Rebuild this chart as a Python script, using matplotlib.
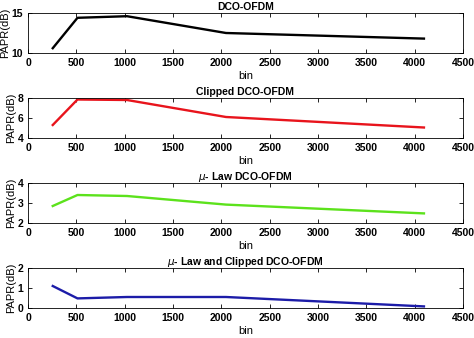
import numpy as np
import matplotlib.pyplot as plt

plt.rcParams['font.family'] = ['Liberation Sans', 'DejaVu Sans']
plt.rcParams['mathtext.fontset'] = 'dejavusans'

bins = [256, 512, 1024, 2048, 4096]
papr_dco = [10.6, 14.4, 14.6, 12.5, 11.8]
papr_clip = [5.3, 7.85, 7.8, 6.1, 5.05]
papr_mu = [2.85, 3.4, 3.35, 2.92, 2.48]
papr_mu_clip = [1.1, 0.48, 0.55, 0.55, 0.08]

titles = ['DCO-OFDM', 'Clipped DCO-OFDM',
          r'$\mu$- Law DCO-OFDM', r'$\mu$- Law and Clipped DCO-OFDM']
series = [papr_dco, papr_clip, papr_mu, papr_mu_clip]
colors = ['#000000', '#e8141c', '#5ce21c', '#1c1ca8']
ylims = [(10, 15), (4, 8), (2, 4), (0, 2)]
yticks = [[10, 15], [4, 6, 8], [2, 3, 4], [0, 1, 2]]
xticks = np.arange(0, 4501, 500)

fig = plt.figure(figsize=(4.74, 3.38), dpi=100)
W, H = 474, 338
tops = [13, 98, 183, 268]
for i in range(4):
    ax = fig.add_axes([28 / W, 1 - (tops[i] + 40) / H, 435 / W, 40 / H])
    ax.plot(bins, series[i], color=colors[i], lw=1.7)
    ax.set_xlim(0, 4500)
    ax.set_ylim(*ylims[i])
    ax.set_xticks(xticks)
    ax.set_yticks(yticks[i])
    ax.tick_params(direction='in', length=3, width=0.6, labelsize=7.5,
                   top=True, right=True, pad=3.5)
    for lab in ax.get_xticklabels() + ax.get_yticklabels():
        lab.set_fontweight('bold')
    for sp in ax.spines.values():
        sp.set_linewidth(0.6)
    ax.set_title(titles[i], fontsize=7.5, fontweight='bold', pad=2)
    ax.set_xlabel('bin', fontsize=8, labelpad=2.5)
    ax.set_ylabel('PAPR(dB)', fontsize=8, labelpad=1)

fig.savefig('out.png', dpi=100)
